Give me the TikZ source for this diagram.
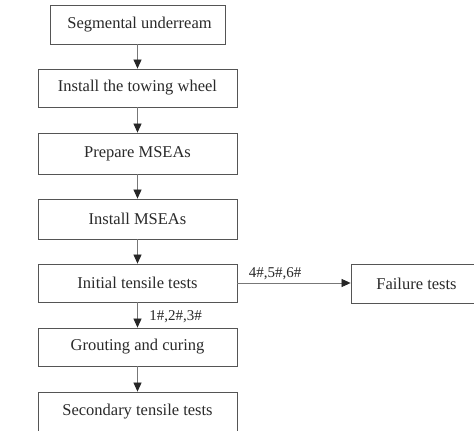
\documentclass[tikz,border=0pt]{standalone}
\usepackage{fontspec}
\setmainfont{Liberation Serif}
\usetikzlibrary{arrows.meta}
\definecolor{boxline}{HTML}{555555}
\definecolor{conline}{HTML}{777777}
\definecolor{txt}{HTML}{2A2A2A}
\begin{document}
\begin{tikzpicture}[x=1pt,y=-1pt,
  stepbox/.style={draw=boxline,line width=0.8pt,rectangle,inner sep=0pt,
    text=txt,font=\fontsize{16.5}{18}\selectfont,anchor=center},
  conn/.style={draw=conline,line width=0.7pt,-{Triangle[length=9pt,width=8pt,color=black!85]}},
  lab/.style={text=txt,font=\fontsize{15}{17}\selectfont,inner sep=0pt}]
\useasboundingbox (0,0) rectangle (474,431);
\fill[white] (0,0) rectangle (474,431);
\begin{scope}
\clip (0,0) rectangle (474,431);
\node[stepbox,minimum width=175pt,minimum height=39pt] (s1) at (137.5,24.5) {\hspace*{4pt}Segmental underream};
\node[stepbox,minimum width=199pt,minimum height=38pt] (s2) at (137.5,88) {Install the towing wheel};
\node[stepbox,minimum width=199pt,minimum height=41pt] (s3) at (137.5,153.5) {Prepare MSEAs};
\node[stepbox,minimum width=199pt,minimum height=40pt] (s4) at (137.5,219) {Install MSEAs};
\node[stepbox,minimum width=199pt,minimum height=38pt] (s5) at (137.5,283) {Initial tensile tests};
\node[stepbox,minimum width=199pt,minimum height=38pt] (s6) at (137.5,347) {Grouting and curing};
\node[stepbox,minimum width=199pt,minimum height=40pt] (s7) at (137.5,412) {Secondary tensile tests};
\node[stepbox,minimum width=127pt,minimum height=39pt] (f) at (414.5,283.5) {\hspace*{4pt}Failure tests};
\end{scope}
\draw[conn] (s1.south) -- (s2.north);
\draw[conn] (s2.south) -- (s3.north);
\draw[conn] (s3.south) -- (s4.north);
\draw[conn] (s4.south) -- (s5.north);
\draw[conn] (s5.south) -- (s6.north);
\draw[conn] (s6.south) -- (s7.north);
\draw[conn] (s5.east) -- (s5.east -| f.west);
\node[lab] (l1) at (275,274) {4\#,5\#,6\#};
\node[lab] (l2) at (175.5,317) {1\#,2\#,3\#};
\end{tikzpicture}
\end{document}
